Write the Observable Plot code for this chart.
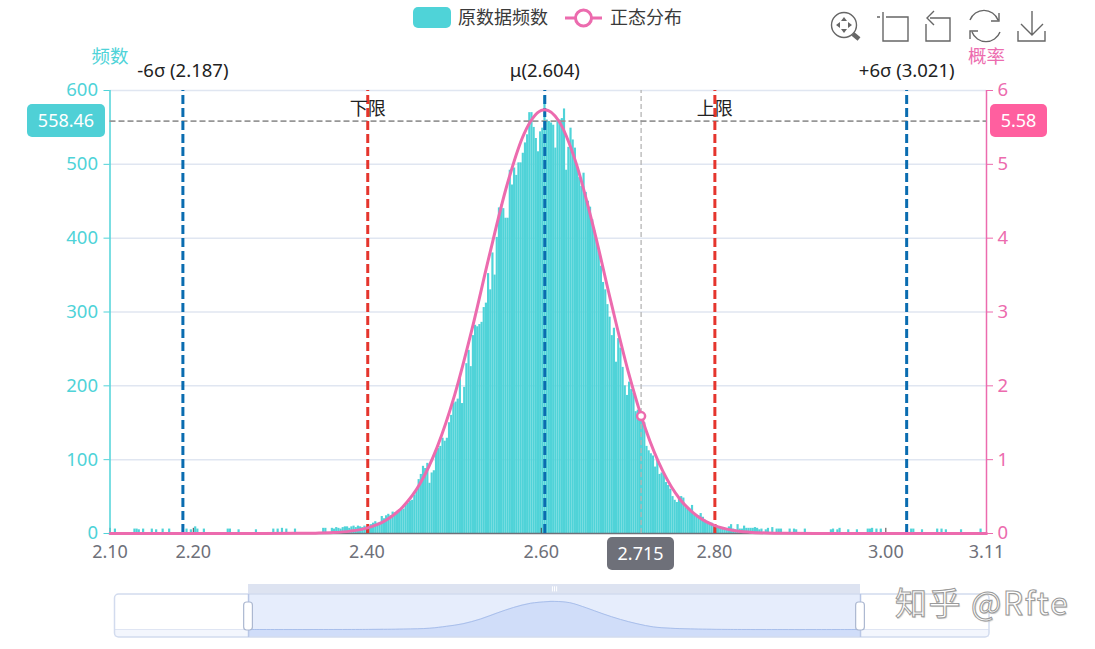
<!DOCTYPE html>
<html><head><meta charset="utf-8">
<script src="https://cdn.jsdelivr.net/npm/d3@7"></script>
<script src="https://cdn.jsdelivr.net/npm/@observablehq/plot@0.6"></script>
<style>
html,body{margin:0;padding:0;background:#fff;}
#wrap{position:relative;width:1095px;height:649px;overflow:hidden;font-family:"Noto Sans","Noto Sans CJK SC",sans-serif;}
#head{position:relative;height:45px;}
#head svg{position:absolute;left:0;top:0;}
.lg{position:absolute;top:3px;font:18px/26px "Noto Sans CJK SC",sans-serif;color:#3a3a3a;}
.pill{position:absolute;color:#fff;text-align:center;border-radius:5px;font:18px/33px "Noto Sans","Noto Sans CJK SC",sans-serif;height:33px;}
#mark{position:absolute;left:895px;top:579px;font:400 32px/44px "Noto Sans CJK SC",sans-serif;color:#fff;-webkit-text-stroke:1px #9a9a9a;text-shadow:1px 1px 1px #ccc;white-space:nowrap;letter-spacing:1.6px;}
svg{display:block;}
</style></head><body>
<div id="wrap">
 <div id="head">
  <svg width="1095" height="45" fill="none" stroke="#666" stroke-width="1.4">
   <rect x="413" y="7" width="38" height="21" rx="5" fill="#4fd3d8" stroke="none"/>
   <line x1="565" y1="18" x2="602" y2="18" stroke="#ec6bae" stroke-width="3"/>
   <circle cx="583.5" cy="18" r="8" fill="#fff" stroke="#ec6bae" stroke-width="3"/>
   <circle cx="844" cy="25" r="12.5"/>
   <line x1="853" y1="34" x2="859" y2="39" stroke-width="4.5"/>
   <path d="M844 17l-3 4h6zM844 33l-3-4h6zM836 25l4-3v6zM852 25l-4-3v6z" fill="#666" stroke="none"/>
   <path d="M877 17H880M886 17H908V41H883V12"/>
   <path d="M930 18H950V41H926V24M934 11L927 18L934 25"/>
   <path d="M970 20A15 15 0 0 1 998 20M999 13V21H991M1000 32A15 15 0 0 1 972 32M970 39V31H978"/>
   <path d="M1032 11V34M1021 24L1032 35L1043 24M1018 31V41H1045V31"/>
  </svg>
  <div class="lg" style="left:458px">原数据频数</div>
  <div class="lg" style="left:610px">正态分布</div>
 </div>
 <div id="main"></div>
 <div id="slider"></div>
 <div id="mark">知乎 @Rfte</div>
</div>
<script>
// ---------- data ----------
const binStart = 2.103, binWidth = 0.0025;
const binCount = 404;
const leftTailBins = [2,11,12,13,15,19,21,24,27,35,37,39,40,43,54,55,59,67,75,77,79,81,85,98,99,102,103,104];
const leftTailCounts = [6,6,6,5,6,6,5,6,6,6,5,9,6,6,6,6,5,5,6,6,7,6,6,7,7,7,6,8];
const coreStartBin = 105;
const coreCounts = [7,6,8,9,9,7,9,10,8,10,9,8,10,9,10,12,14,16,14,15,23,20,24,26,24,29,28,30,31,32,33,38,41,44,45,52,58,73,80,91,88,95,68,82,85,110,115,118,129,125,129,150,
 160,176,178,182,211,176,198,230,248,226,268,282,280,283,286,306,312,352,330,380,350,401,441,445,440,427,427,492,472,495,485,502,502,515,529,540,570,570,550,535,517,544,549,592,
 560,558,556,553,522,560,560,562,575,492,523,549,533,522,495,482,470,488,462,450,442,425,410,397,382,362,340,330,310,293,268,278,232,264,251,225,200,187,205,195,190,165,167,167,160,
 150,118,112,108,105,90,99,80,82,80,69,65,60,50,45,42,48,50,48,35,33,31,38,25,24,24,27,22,18,16,15,14,11,11,7,8,7,5,6,9,12,6,5,12,6,6,10,7,7,7,7,8,7,5];
const rightTailBins = [300,302,303,305,307,308,309,313,315,316,320,332,333,335,336,340,344,349,350,351,353,355,369,370,374,381,383,385,392,401];
const rightTailCounts = [6,5,7,8,6,6,6,6,6,5,6,5,6,5,7,5,5,6,6,7,6,6,6,6,5,6,6,5,5,6];

const curveX = [2.103,2.28,2.32,2.34,2.36,2.38,2.40,2.42,2.44,2.46,2.48,2.50,2.52,2.54,2.56,2.58,2.60,2.604,2.62,2.64,2.66,2.68,2.70,2.72,2.74,2.76,2.78,2.80,2.82,2.84,2.86,2.88,2.92,3.113];
const curveProb = [0,0,0.002,0.005,0.012,0.032,0.077,0.173,0.356,0.67,1.17,1.87,2.76,3.76,4.70,5.41,5.73,5.74,5.59,5.02,4.15,3.15,2.20,1.42,0.845,0.46,0.234,0.107,0.045,0.018,0.006,0.002,0,0];

const freqTicks = [0,100,200,300,400,500,600];
const xTickValues = [2.103,2.199,2.399,2.6,2.7995,2.997,3.113];
const xTickLabels = ["2.10","2.20","2.40","2.60","2.80","3.00","3.11"];
const sigmaLines = [2.187,2.604,3.021];
const sigmaLabels = ["-6σ (2.187)","μ(2.604)","+6σ (3.021)"];
const limitLines = [2.40,2.80];
const limitLabels = ["下限","上限"];
const pointerX = 2.715, pointerProb = 1.59, pointerFreq = 558.46, pointerProbLabel = "5.58";

const sliderX = [0,15.27,29,33,36,37.9,39.8,41.8,43.7,45.6,47.5,49.4,50.3,52,53.9,55.8,57.8,59.7,61.6,63.5,65.8,70,85.25,100];
const sliderY = [18.6,18.6,18.8,19.6,21.6,26,32,43,57,70,79.5,83.4,84,81,69,55,42,32,24.5,21.6,20,18.8,18.6,18.6];
const selectStart = 15.27, selectEnd = 85.25;

// ---------- colours ----------
const teal="#4fd3d8", pink="#ec6bae", red="#e5352d", blue="#0a6cb0", grid="#e0e6f1", grey="#6e7079";

// ---------- assemble ----------
const counts = new Array(binCount).fill(0);
leftTailBins.forEach((k,i)=>counts[k]=leftTailCounts[i]);
coreCounts.forEach((c,i)=>counts[coreStartBin+i]=c);
rightTailBins.forEach((k,i)=>counts[k]=rightTailCounts[i]);
const bars = counts.map((c,k)=>({x1:binStart+k*binWidth,x2:binStart+(k+1)*binWidth,c})).filter(d=>d.c>0);
const curve = curveX.map((x,i)=>({x,p:curveProb[i]*100}));
const xMin=xTickValues[0], xMax=xTickValues[xTickValues.length-1];
const font='"Noto Sans","Noto Sans CJK SC",sans-serif';
const cjk='"Noto Sans CJK SC",sans-serif';

const plot = Plot.plot({
  width:1095,height:533,marginTop:45,marginBottom:45,marginLeft:109.5,marginRight:109,
  style:{fontFamily:font,background:"transparent",overflow:"visible"},
  x:{domain:[xMin,xMax]},
  y:{domain:[0,600]},
  marks:[
    Plot.ruleY(freqTicks.slice(1),{x1:xMin,x2:xMax,stroke:grid,strokeWidth:1.5}),
    Plot.rectY(bars,{x1:"x1",x2:"x2",y1:0,y2:"c",fill:teal}),
    Plot.ruleX(xTickValues,{y1:0,y2:7,stroke:"#444",strokeWidth:1}),
    Plot.ruleX([xMin],{y1:0,y2:600,stroke:teal,strokeWidth:1.5}),
    Plot.ruleX([xMax],{y1:0,y2:600,stroke:pink,strokeWidth:1.5}),
    Plot.ruleY([0],{x1:xMin,x2:xMax,stroke:grey,strokeWidth:1.5}),
    Plot.ruleX([pointerX],{y1:0,y2:600,stroke:"#b5b5b5",strokeWidth:1.3,strokeDasharray:"5,3"}),
    Plot.ruleY([pointerFreq],{x1:xMin,x2:xMax,stroke:"#979797",strokeWidth:1.6,strokeDasharray:"6,3"}),
    Plot.ruleX(limitLines,{y1:0,y2:600,stroke:red,strokeWidth:3,strokeDasharray:"9,4"}),
    Plot.ruleX(sigmaLines,{y1:0,y2:600,stroke:blue,strokeWidth:3,strokeDasharray:"9,4"}),
    Plot.line(curve,{x:"x",y:"p",stroke:pink,strokeWidth:3,curve:"monotone-x"}),
    Plot.dot([{x:pointerX,p:pointerProb*100}],{x:"x",y:"p",r:4,fill:"#fff",stroke:pink,strokeWidth:2.5}),
    Plot.axisY({anchor:"left",ticks:freqTicks,tickSize:6,tickPadding:6,color:teal,fontSize:18.5,label:null}),
    Plot.axisY({anchor:"right",ticks:freqTicks,tickFormat:d=>d/100,tickSize:6,tickPadding:5,color:pink,fontSize:18.5,label:null}),
    Plot.axisX({ticks:xTickValues,tickFormat:d=>xTickLabels[xTickValues.indexOf(d)],tickSize:0,tickPadding:12,color:grey,fontSize:18,label:null}),
    Plot.text(sigmaLabels,{x:(d,i)=>sigmaLines[i],y:600,text:d=>d,dy:-19,fill:"#222",fontSize:18.5}),
    Plot.text(limitLabels,{x:(d,i)=>limitLines[i],y:600,text:d=>d,dy:19,fill:"#222",fontSize:18,fontFamily:cjk}),
    Plot.text(["频数"],{x:xMin,y:600,text:d=>d,dy:-33,fill:teal,fontSize:18.5,fontFamily:cjk}),
    Plot.text(["概率"],{x:xMax,y:600,text:d=>d,dy:-33,fill:pink,fontSize:18.5,fontFamily:cjk})
  ]
});
document.getElementById("main").appendChild(plot);

// pointer badges placed through the chart's own scales
const wrap=document.getElementById("wrap"), top0=45;
const py=plot.scale("y").apply(pointerFreq)+top0, px=plot.scale("x").apply(pointerX);
function pill(txt,left,width,top,bg){const d=document.createElement("div");d.className="pill";d.textContent=txt;
  d.style.cssText=`left:${left}px;width:${width}px;top:${top}px;background:${bg}`;wrap.appendChild(d);}
pill(String(pointerFreq),27,78,py-16.5,"#4fd0d6");
pill(pointerProbLabel,990,57,py-16.5,"#ff5f9f");
pill(pointerX.toFixed(3),px-33.5,67,537,"#6e7079");

// data-zoom slider
const sl = sliderX.map((x,i)=>({x,y:sliderY[i]}));
const inside = sl.filter(d=>d.x>=selectStart&&d.x<=selectEnd);
const slider = Plot.plot({
  width:1095,height:71,marginTop:6,marginBottom:12,marginLeft:114.5,marginRight:106,
  style:{background:"transparent",overflow:"visible"},
  x:{domain:[0,100],axis:null},y:{domain:[0,123.3],axis:null},
  marks:[
    Plot.rect([0],{x1:0,x2:100,y1:0,y2:18.6,fill:"#f3f6fd"}),
    Plot.rect([0],{x1:selectStart,x2:selectEnd,y1:0,y2:100,fill:"#e6edfc"}),
    Plot.rect([0],{x1:selectStart,x2:selectEnd,y1:100,y2:123.3,fill:"#dde3f1"}),
    Plot.areaY(inside,{x:"x",y:"y",fill:"#d0ddf9",curve:"catmull-rom"}),
    Plot.line(inside,{x:"x",y:"y",stroke:"#a9bfeb",strokeWidth:1,curve:"catmull-rom"}),
    Plot.ruleY([18.6],{x1:0,x2:selectStart,stroke:"#dfe5f3",strokeWidth:1}),
    Plot.ruleY([18.6],{x1:selectEnd,x2:100,stroke:"#dfe5f3",strokeWidth:1}),
    Plot.rect([0],{x1:0,x2:100,y1:0,y2:100,fill:"none",stroke:"#d2dbee",strokeWidth:1.5,rx:4}),
    Plot.ruleX([selectStart,selectEnd],{y1:0,y2:100,stroke:"#b9c7e6",strokeWidth:1.5}),
    Plot.rect([selectStart,selectEnd],{x1:d=>d-0.5,x2:d=>d+0.5,y1:16.3,y2:81.4,fill:"#fff",stroke:"#acb8d1",strokeWidth:1.2,rx:3}),
    Plot.ruleX([50.02,50.26,50.5],{y1:106,y2:118,stroke:"#fff",strokeWidth:1})
  ]
});
document.getElementById("slider").appendChild(slider);
</script>
</body></html>
